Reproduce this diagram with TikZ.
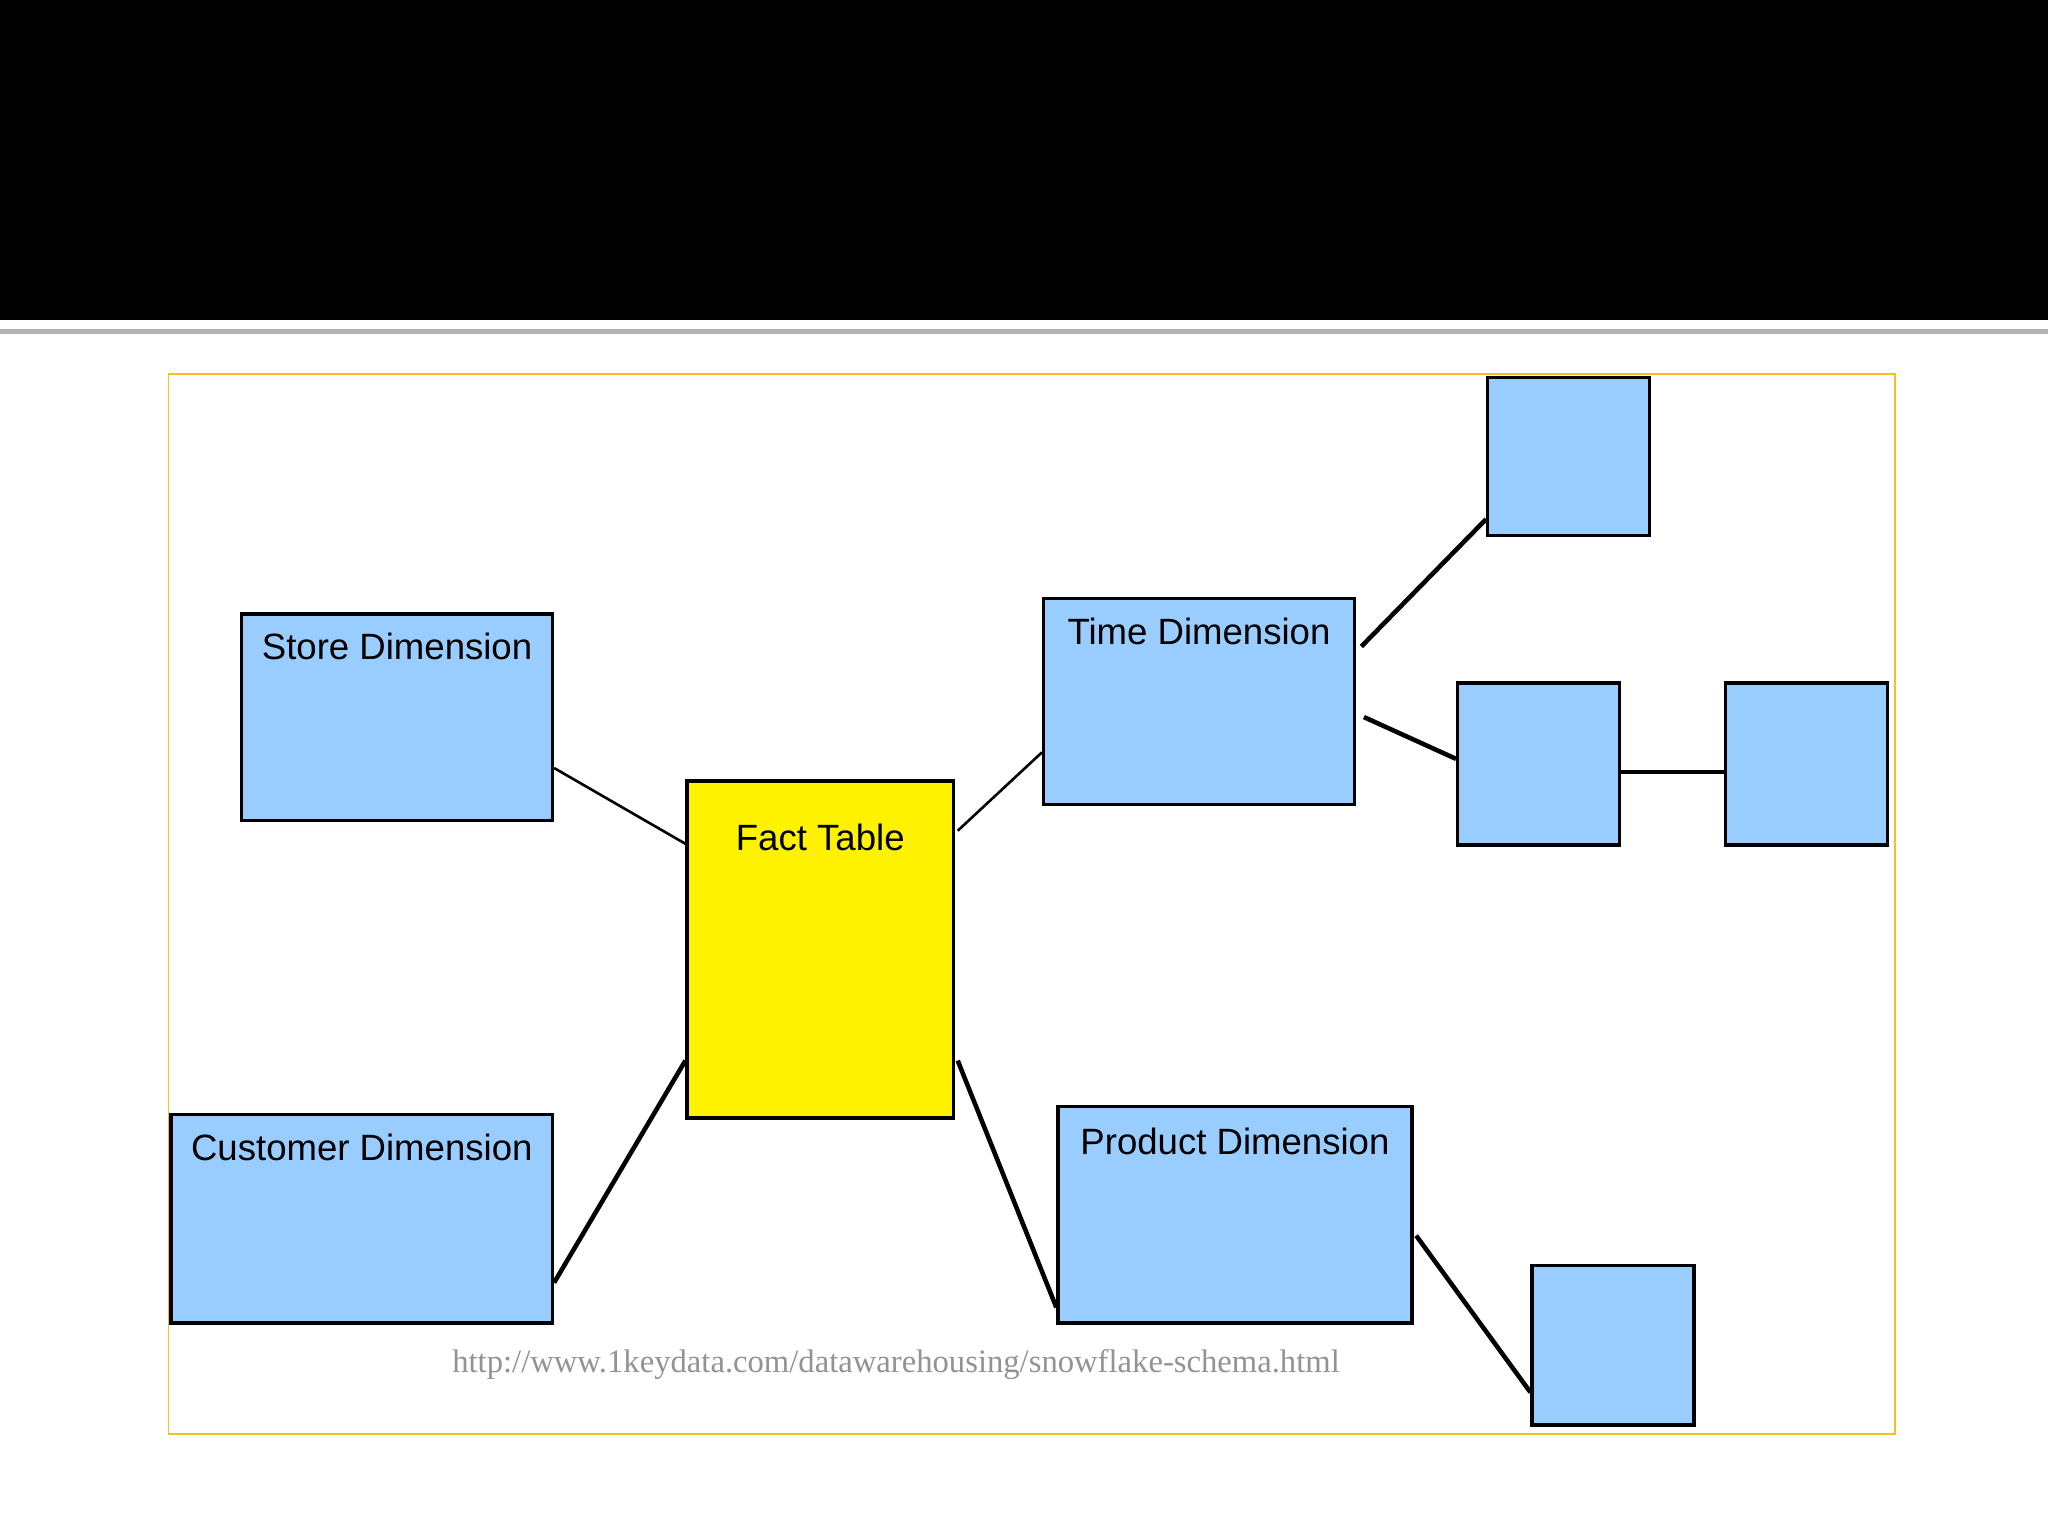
\documentclass[tikz,border=0pt]{standalone}
\usepackage{fontspec}
\setmainfont{Liberation Sans}
\newfontfamily\urlfont{Liberation Serif}
\usetikzlibrary{calc}
\definecolor{boxblue}{RGB}{153,204,255}
\definecolor{frameorange}{RGB}{245,190,40}
\begin{document}
\begin{tikzpicture}[x=1pt,y=-1pt,
  box/.style={draw=black,line width=2.5pt,fill=boxblue},
  lbl/.style={font=\fontsize{28}{30}\selectfont,anchor=north,inner sep=0pt},
  con/.style={line width=2pt},
  conthick/.style={line width=3.5pt}]
\useasboundingbox (0,0) rectangle (1568,1176);
\fill[white] (0,0) rectangle (1568,1176);
\fill[black] (0,0) rectangle (1568,245);
\fill[gray!60] (0,252) rectangle (1568,256);
\draw[frameorange,line width=1.5pt,fill=white] (129,286) rectangle (1451,1098);
% boxes
\node[box,minimum width=238pt,minimum height=158pt] (store) at (304,549) {};
\node[box,fill=yellow,minimum width=204pt,minimum height=258pt] (fact) at (628,727) {};
\node[box,minimum width=238pt,minimum height=158pt] (time) at (918,537) {};
\node[box,minimum width=292pt,minimum height=160pt] (cust) at (277,933) {};
\node[box,minimum width=271pt,minimum height=166pt] (prod) at (945.5,930) {};
\node[box,minimum width=124pt,minimum height=121pt] (sqa) at (1201,349.5) {};
\node[box,minimum width=124pt,minimum height=124pt] (sqb) at (1178,585) {};
\node[box,minimum width=124pt,minimum height=124pt] (sqc) at (1383,585) {};
\node[box,minimum width=124pt,minimum height=122pt] (sqd) at (1235,1030) {};
% labels
\node[lbl] (lstore) at ([yshift=-16pt]store.north) {Store Dimension};
\node[lbl] (lfact) at ([yshift=-34pt]fact.north) {Fact Table};
\node[lbl] (ltime) at ([yshift=-16pt]time.north) {Time Dimension};
\node[lbl] (lcust) at ([yshift=-16pt]cust.north) {Customer Dimension};
\node[lbl] (lprod) at ([yshift=-18pt]prod.north) {Product Dimension};
\node[font=\urlfont\fontsize{25}{27}\selectfont,text=gray!85] (url) at (686,1045) {http://www.1keydata.com/datawarehousing/snowflake-schema.html};
% connectors
\draw[con] ([yshift=-39pt]store.east) -- ([yshift=81pt]fact.west);
\draw[conthick] ([yshift=-49pt]cust.east) -- ([yshift=-85pt]fact.west);
\draw[con] ([xshift=2pt,yshift=91pt]fact.east) -- ([yshift=-39pt]time.west);
\draw[conthick] ([xshift=2pt,yshift=-85pt]fact.east) -- ([yshift=-71pt]prod.west);
\draw[conthick] ([xshift=4pt,yshift=42pt]time.east) -- ([yshift=-48pt]sqa.west);
\draw[conthick] ([xshift=6pt,yshift=-12pt]time.east) -- ([yshift=4pt]sqb.west);
\draw[conthick] ([yshift=-6pt]sqb.east) -- ([yshift=-6pt]sqc.west);
\draw[conthick] ([xshift=2pt,yshift=-16pt]prod.east) -- ([yshift=-36pt]sqd.west);
\end{tikzpicture}
\end{document}
